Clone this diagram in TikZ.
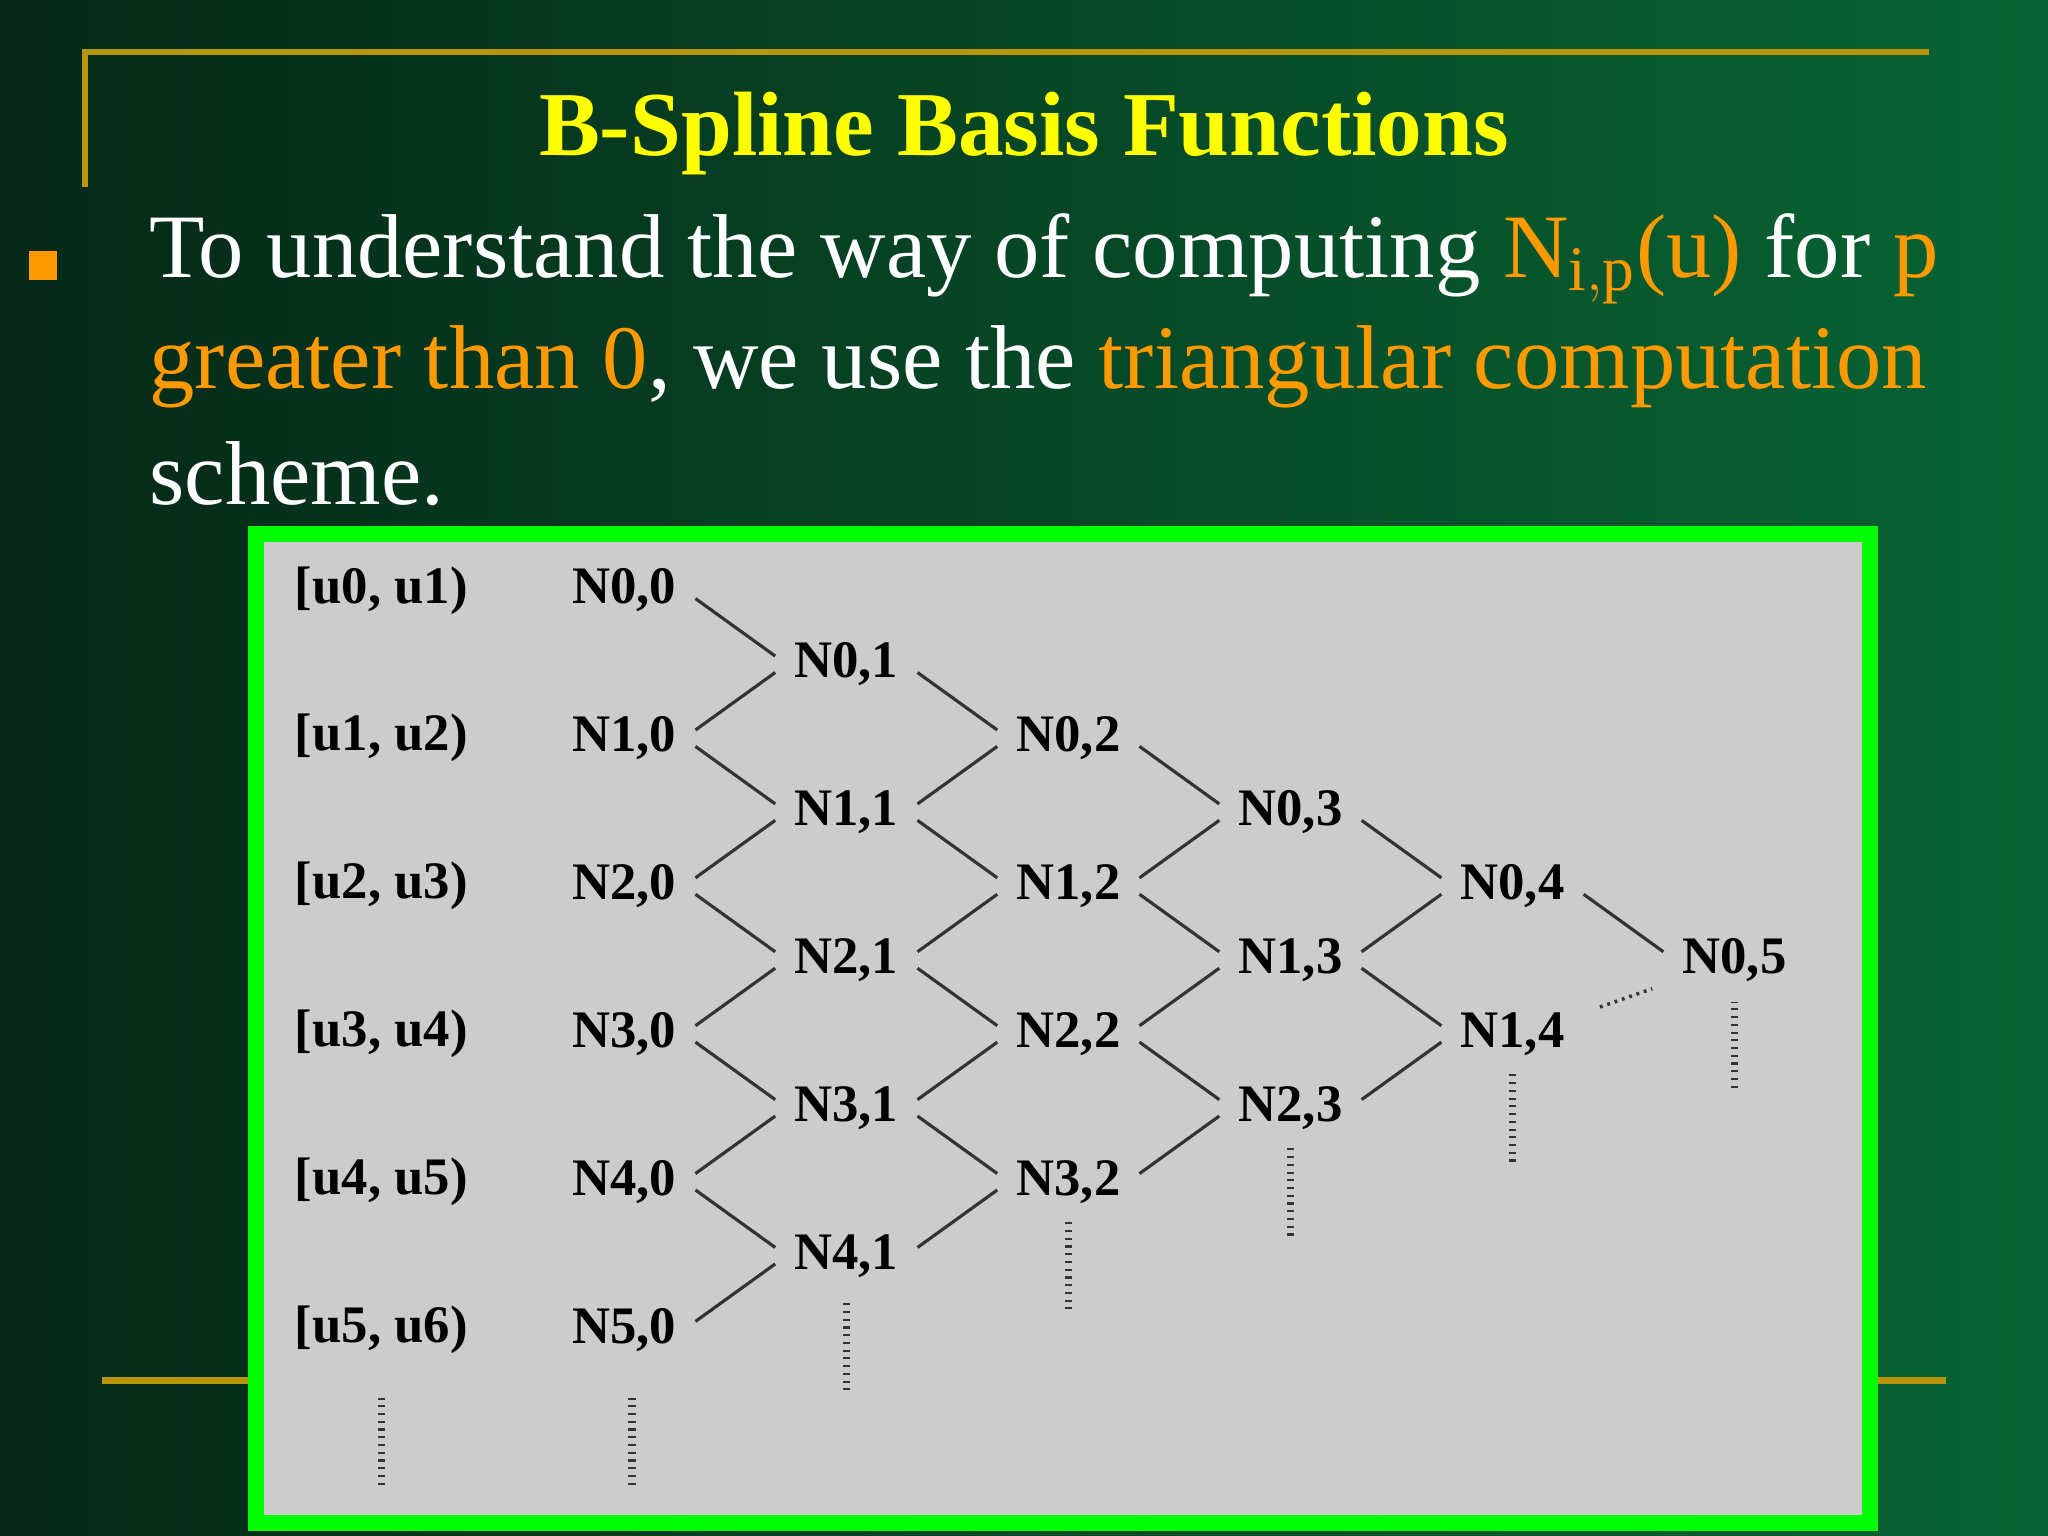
\documentclass[tikz,border=0pt]{standalone}
\usepackage{fontspec}
\setmainfont{Liberation Serif}
\definecolor{gold}{HTML}{B8960C}
\definecolor{orng}{HTML}{FF9900}
\definecolor{ttl}{HTML}{FFFF00}
\begin{document}
\begin{tikzpicture}[x=0.013061cm,y=-0.013061cm,
  nd/.style={font=\fontsize{15}{15}\selectfont\bfseries,text=black,inner sep=2pt},
  ln/.style={draw=black!80,line width=0.9pt,shorten >=4pt,shorten <=4pt},
  dt/.style={draw=black!80,line width=2.2pt,dash pattern=on 0.6pt off 1.6pt},
  dtd/.style={draw=black!80,line width=1pt,dash pattern=on 0.8pt off 1.4pt}]
\useasboundingbox (0,0) rectangle (1568,1176);
\fill[left color={rgb,255:red,6;green,40;blue,24}, right color={rgb,255:red,8;green,100;blue,52}] (0,0) rectangle (1568,1176);
\draw[gold,line width=1.8pt] (65,143) -- (65,40) -- (1477,40);
\draw[gold,line width=1.8pt] (78,1057) -- (1490,1057);
\node[text=ttl,font=\fontsize{26}{26}\selectfont\bfseries] (title) at (784,102) {B-Spline Basis Functions};
\fill[orng] (22,192) rectangle (44,214);
\node[anchor=west,text=white,font=\fontsize{25.8}{25.8}\selectfont,inner sep=0] (l1) at (114,198) {To understand the way of computing \textcolor{orng}{N$_{\mathrm{i,p}}$(u)} for \textcolor{orng}{p}};
\node[anchor=west,text=white,font=\fontsize{25.8}{25.8}\selectfont,inner sep=0] (l2) at (114,281) {\textcolor{orng}{greater than 0}, we use the \textcolor{orng}{triangular computation}};
\node[anchor=west,text=white,font=\fontsize{25.8}{25.8}\selectfont,inner sep=0] (l3) at (114,363) {scheme.};
\draw[draw={rgb,255:red,0;green,255;blue,0},fill=black!20,line width=4.6pt] (196,409) rectangle (1432,1166);
\foreach \i/\a/\b in {0/0/1,1/1/2,2/2/3,3/3/4,4/4/5,5/5/6}
  \node[nd] (L\i) at (292,452+113.2*\i) {[u\a, u\b)};
\foreach \p in {0,...,5}{
  \pgfmathtruncatemacro{\m}{5-\p}
  \foreach \i in {0,...,\m}
    \node[nd] (N\i\p) at (478+170*\p,452+56.6*\p+113.2*\i) {N\i,\p};
}
\foreach \p in {0,...,4}{
  \pgfmathtruncatemacro{\m}{5-\p}
  \pgfmathtruncatemacro{\q}{\p+1}
  \foreach \i in {0,...,\m}{
    \pgfmathtruncatemacro{\k}{\i-1}
    \ifnum\i<\m \draw[ln] (N\i\p.east) -- (N\i\q.west); \fi
    \ifnum\p<4 \ifnum\i>0 \draw[ln] (N\i\p.east) -- (N\k\q.west); \fi \fi
  }
}
\coordinate (d1) at (292,1140);\draw[dt] (292,1070) -- (d1);
\coordinate (d2) at (484,1140);\draw[dt] (484,1070) -- (d2);
\draw[dt] ([yshift=-30pt]N41.south) -- ++(0,-70);
\draw[dt] ([yshift=-28pt]N32.south) -- ++(0,-70);
\draw[dt] ([yshift=-28pt]N23.south) -- ++(0,-68);
\draw[dt] ([yshift=-28pt]N14.south) -- ++(0,-68);
\draw[dt] ([yshift=-28pt]N05.south) -- ++(0,-66);
\draw[dtd] (1225,771) -- (1265,757);
\end{tikzpicture}
\end{document}
